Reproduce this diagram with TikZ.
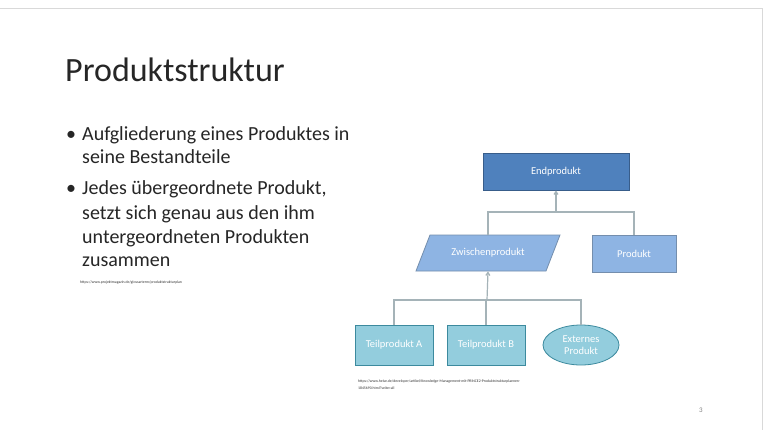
\documentclass[tikz,border=0pt]{standalone}
\usepackage{fontspec}
\setmainfont{Carlito}
\usetikzlibrary{shapes.geometric,arrows.meta}
\definecolor{dblue}{HTML}{4F81BD}
\definecolor{dbord}{HTML}{385D8A}
\definecolor{mblue}{HTML}{8EB4E3}
\definecolor{cyanb}{HTML}{93CDDD}
\definecolor{cyanbd}{HTML}{4BACC6}
\definecolor{conn}{HTML}{A5B3B8}
\tikzset{
 box/.style={draw=dbord,line width=0.8pt,text=white,font=\fontsize{10.5}{12}\selectfont,inner sep=0pt},
 conline/.style={draw=conn,line width=1.2pt},
 bul/.style={anchor=base west,font=\fontsize{20}{22}\selectfont,inner sep=0pt,text=black!85},
 tiny/.style={anchor=base west,font=\fontsize{3.8}{4}\selectfont,inner sep=0pt,text=black!80}
}
\begin{document}
\begin{tikzpicture}[x=1pt,y=-1pt]
\useasboundingbox (0,0) rectangle (775,438);
\fill[white] (0,0) rectangle (775,438);
\draw[black!15] (0,8) -- (762,8) -- (762,430);
\node[anchor=base west,font=\fontsize{34}{36}\selectfont,inner sep=0pt,text=black!85] (title) at (65,82) {Produktstruktur};
\node[bul] (b1) at (66,141) {•};
\node[bul] (t1) at (82,141) {Aufgliederung eines Produktes in};
\node[bul] (t2) at (82,164) {seine Bestandteile};
\node[bul] (b2) at (66,195) {•};
\node[bul] (t3) at (82,195) {Jedes übergeordnete Produkt,};
\node[bul] (t4) at (82,219) {setzt sich genau aus den ihm};
\node[bul] (t5) at (82,243) {untergeordneten Produkten};
\node[bul] (t6) at (82,266) {zusammen};
\node[tiny] (u1) at (80,283) {https://www.projektmagazin.de/glossarterm/produktstrukturplan};
\node[box,fill=dblue,minimum width=146pt,minimum height=37pt] (end) at (556,171.5) {Endprodukt};
\fill[mblue,draw=dbord!70,line width=0.8pt] (430,235) -- (560,235) -- (546,271) -- (416,271) -- cycle;
\node[box,draw=none,minimum width=130pt,minimum height=36pt] (zw) at (488,253) {Zwischenprodukt};
\node[box,fill=mblue,minimum width=84pt,minimum height=37pt,draw=dbord!70] (pr) at (634,253.5) {Produkt};
\node[box,fill=cyanb,draw=cyanbd!80!black,minimum width=78pt,minimum height=40pt] (ta) at (394,345) {Teilprodukt A};
\node[box,fill=cyanb,draw=cyanbd!80!black,minimum width=78pt,minimum height=40pt] (tb) at (486,345) {Teilprodukt B};
\node[box,fill=cyanb,draw=cyanbd!80!black,ellipse,minimum width=76pt,minimum height=40pt,align=center,font=\fontsize{10.5}{12}\selectfont] (ex) at (581,345) {Externes\\Produkt};
\coordinate (j1) at (556,212);
\draw[conline] (zw.north) |- (j1) -| (pr.north);
\draw[conline,-{Straight Barb[length=3pt,width=4pt]}] (j1) -- (end.south);
\coordinate (j2) at (487,300);
\draw[conline] (ta.north) |- (j2) -| (ex.north);
\draw[conline] (tb.north) -- (tb.north |- j2);
\draw[conline,-{Straight Barb[length=3pt,width=4pt]}] (j2) -- (zw.south);
\node[tiny] (u2) at (358,382) {https://www.heise.de/developer/artikel/Knowledge-Management-mit-PRINCE2-Produktstrukturplaenen-};
\node[tiny] (u3) at (358,389) {1845690.html?seite=all};
\node[font=\fontsize{7}{8}\selectfont,text=black!50] (pg) at (701,410) {3};
\end{tikzpicture}
\end{document}
